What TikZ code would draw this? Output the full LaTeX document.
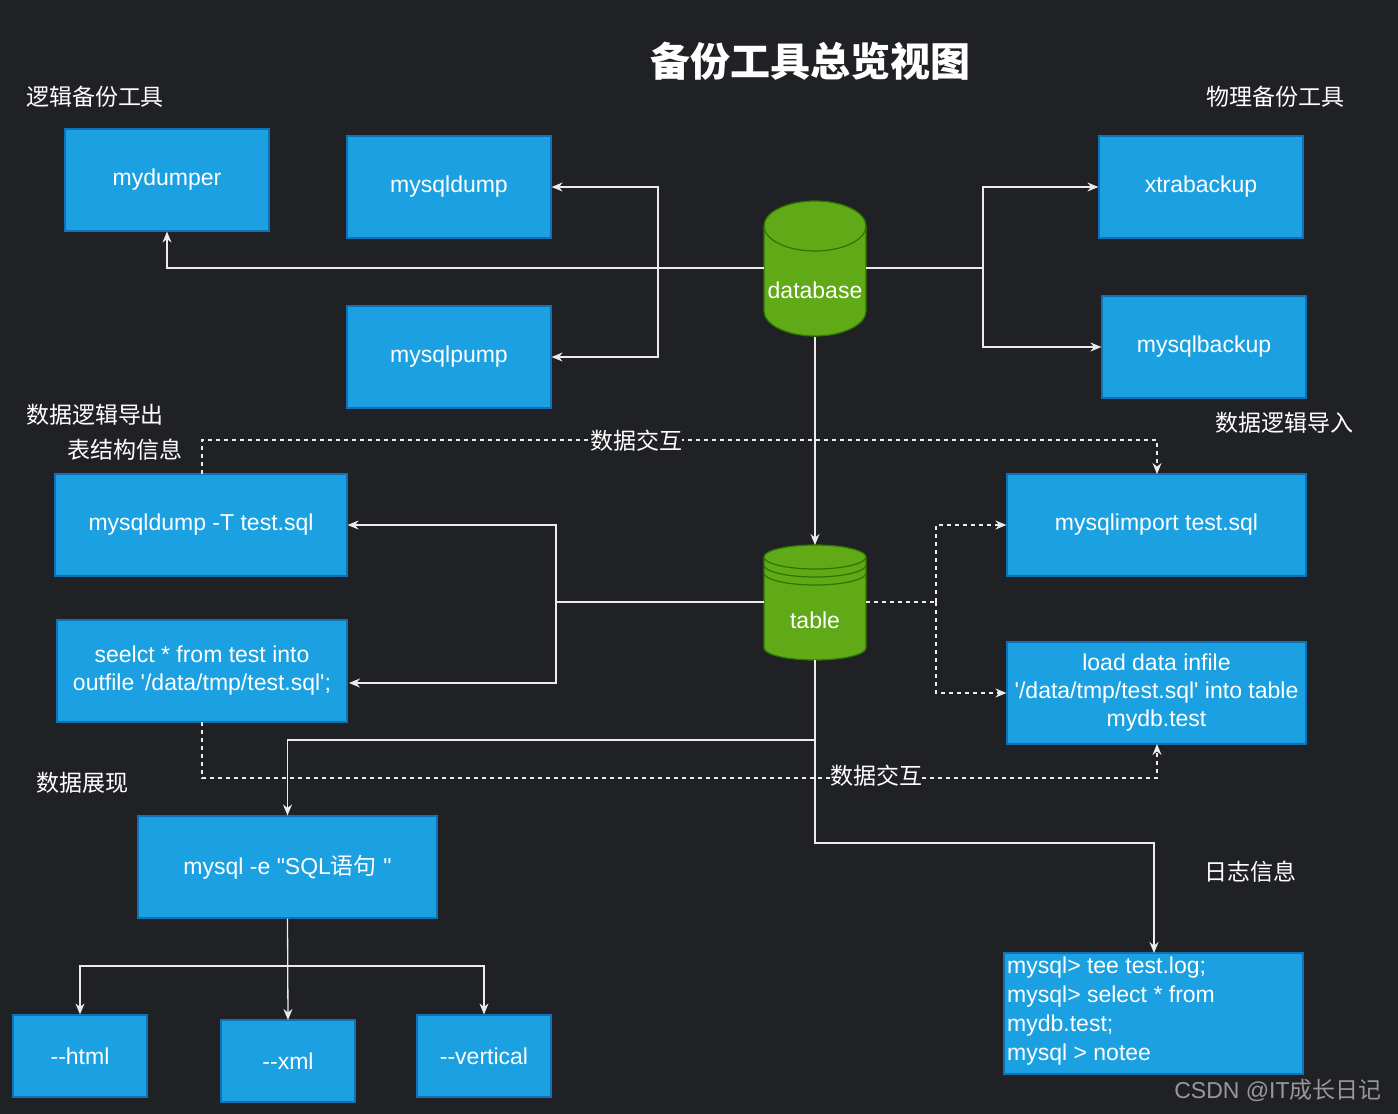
\documentclass[tikz,border=0pt]{standalone}
\usepackage{fontspec}
\setmainfont{Liberation Sans}[Ligatures=TeXOff]
\newfontfamily\cjk{Noto Sans CJK SC}
\usetikzlibrary{arrows.meta}
\definecolor{bg}{HTML}{202124}
\definecolor{bx}{HTML}{1BA1E2}
\definecolor{bxb}{HTML}{1171B8}
\definecolor{gr}{HTML}{60A917}
\definecolor{grb}{HTML}{2D7600}
\begin{document}
\begin{tikzpicture}[x=1pt,y=-1pt,
 box/.style={draw=bxb,line width=1.2pt,fill=bx,text=white,font=\fontsize{23}{28}\selectfont,align=center,inner sep=0pt},
 lab/.style={text=white,font=\cjk\fontsize{23}{27}\selectfont,inner sep=0pt},
 cyl/.style={draw=grb,line width=1.2pt,fill=gr},
 ln/.style={draw=white!92!black,line width=1.3pt},
 ar/.style={ln,-{Stealth[length=11pt,width=9pt]}},
 da/.style={ln,dash pattern=on 4pt off 4pt}]
\fill[bg] (0,0) rectangle (1398,1114);
\useasboundingbox (0,0) rectangle (1398,1114);
\newcommand\bx[6]{\node[box,minimum width=#4-#2,minimum height=#5-#3] (#1) at ({(#2+#4)/2},{(#3+#5)/2}) {#6};}
\bx{mydumper}{65}{129}{269}{231}{mydumper}
\bx{mysqldump}{347}{136}{551}{238}{mysqldump}
\bx{mysqlpump}{347}{306}{551}{408}{mysqlpump}
\bx{xtra}{1099}{136}{1303}{238}{xtrabackup}
\bx{mback}{1102}{296}{1306}{398}{mysqlbackup}
\bx{dumpT}{55}{474}{347}{576}{mysqldump -T test.sql}
\bx{seel}{57}{620}{347}{722}{seelct * from test into\\outfile '/data/tmp/test.sql';}
\bx{imp}{1007}{474}{1306}{576}{mysqlimport test.sql}
\bx{load}{1007}{642}{1306}{744}{load data infile\\'/data/tmp/test.sql' into table\\mydb.test}
\bx{mye}{138}{816}{437}{918}{mysql -e "SQL{\cjk 语句} "}
\bx{html}{13}{1015}{147}{1097}{--html}
\bx{xml}{221}{1020}{355}{1102}{--xml}
\bx{vert}{417}{1015}{551}{1097}{--vertical}
\bx{log}{1004}{953}{1303}{1074}{}
\node[text=white,font=\fontsize{23}{29}\selectfont,align=left,anchor=north west,inner sep=0pt] at (1007,957) {mysql> tee test.log;\\mysql> select * from\\mydb.test;\\mysql > notee};
% database cylinder
\path[cyl] (764,226) -- (764,311) arc[x radius=51,y radius=25,start angle=180,end angle=0] -- (866,226) arc[x radius=51,y radius=25,start angle=0,end angle=-180] -- cycle;
\draw[grb,line width=1.2pt] (764,226) arc[x radius=51,y radius=25,start angle=180,end angle=0];
\coordinate (dbs) at (815,337); \coordinate (dl) at (764,268); \coordinate (dr) at (866,268);
\node[text=white,font=\fontsize{23}{27}\selectfont,inner sep=0pt] (db) at (815,290) {database};
% table cylinder
\path[cyl] (764,557) -- (764,648) arc[x radius=51,y radius=12,start angle=180,end angle=0] -- (866,557) arc[x radius=51,y radius=12,start angle=0,end angle=-180] -- cycle;
\draw[grb,line width=1.2pt] (764,557) arc[x radius=51,y radius=12,start angle=180,end angle=0];
\draw[grb,line width=1.2pt] (764,565) arc[x radius=51,y radius=12,start angle=180,end angle=0];
\draw[grb,line width=1.2pt] (764,573) arc[x radius=51,y radius=12,start angle=180,end angle=0];
\node[text=white,font=\fontsize{23}{27}\selectfont,inner sep=0pt] (tb) at (815,620) {table};
\coordinate (tbn) at (815,545); \coordinate (tbs) at (815,660);
\coordinate (tl) at (764,602); \coordinate (tr) at (866,602);
\coordinate (seelin) at (349,683);
% connectors
\draw[ar] (dl) -| (mydumper.south);
\draw[ar] (658,268) |- (mysqldump.east);
\draw[ar] (658,268) |- (mysqlpump.east);
\draw[ar] (dr) -- (983,268) |- (xtra.west);
\draw[ar] (983,268) |- (mback.west);
\draw[ar] (dbs) -- (tbn);
\draw[ln] (tl) -- (556,602);
\draw[ar] (556,602) |- (dumpT.east);
\draw[ar] (556,602) |- (seelin);
\draw[da] (tr) -- (936,602);
\draw[da,-{Stealth[length=11pt,width=9pt]}] (936,602) |- (imp.west);
\draw[da,-{Stealth[length=11pt,width=9pt]}] (936,602) |- (load.west);
\draw[da,-{Stealth[length=11pt,width=9pt]}] (202,474) -- (202,440) -- (1157,440) -- (1157,474);
\draw[da,-{Stealth[length=11pt,width=9pt]}] (202,722) -- (202,778) -- (1157,778) -- (1157,744);
\draw[ar] (tbs) -- (815,740) -| (mye.north);
\draw[ar] (815,740) -- (815,843) -| (1154,953);
\draw[ar] (mye.south) -- (288,1020);
\draw[ar] (288,966) -| (html.north);
\draw[ar] (288,966) -| (vert.north);
\node[lab,fill=bg] at (636,441) {数据交互};
\node[lab,fill=bg] at (876,776) {数据交互};
% labels
\node[text=white,font=\cjk\bfseries\fontsize{40}{46}\selectfont] at (810,61) {备份工具总览视图};
\node[lab] at (95,97) {逻辑备份工具};
\node[lab] at (1275,97) {物理备份工具};
\node[lab] at (95,415) {数据逻辑导出};
\node[lab] at (125,450) {表结构信息};
\node[lab] at (1284,423) {数据逻辑导入};
\node[lab] at (82,783) {数据展现};
\node[lab] at (1250,872) {日志信息};
\node[text=gray!80,font=\fontsize{23}{27}\selectfont,inner sep=0pt] at (1278,1090) {CSDN @IT{\cjk 成长日记}};
\end{tikzpicture}
\end{document}
